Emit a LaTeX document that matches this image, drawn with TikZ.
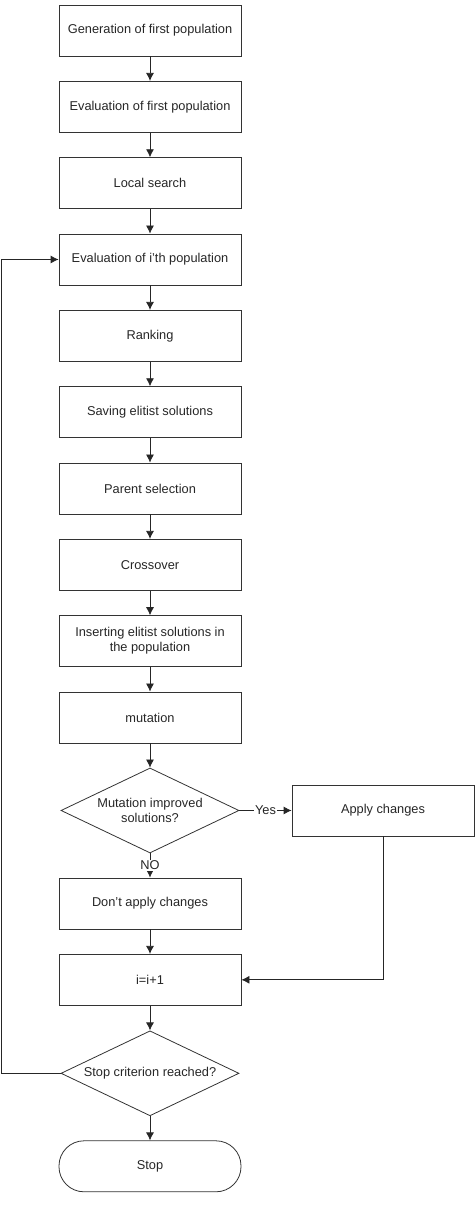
\documentclass[tikz,border=0pt]{standalone}
\usepackage{fontspec}
\setmainfont{Liberation Sans}
\usetikzlibrary{shapes.geometric, arrows.meta}
\tikzstyle{startstop} = [
    rectangle,
    rounded corners=25pt,
    minimum width=182pt,
    minimum height=51pt,
    draw=black!80,
    line width=0.8pt
]
\tikzstyle{process} = [
    rectangle,
    minimum width=182pt,
    minimum height=51pt,
    align=center,
    draw=black!80,
    line width=0.8pt
]
\tikzstyle{decision} = [
    diamond,
    aspect=2.1,
    minimum width=178pt,
    minimum height=85pt,
    inner sep=0pt,
    align=center,
    draw=black!80,
    line width=0.8pt
]
\tikzstyle{arrow} = [line width=0.8pt,draw=black!85,->,>={Latex[length=8pt,width=8pt]}]
\tikzstyle{answer} = [fill=white,inner sep=1pt]

\begin{document}
\begin{tikzpicture}[node distance=76.33pt,
    every node/.style={font=\fontsize{12.8}{15}\selectfont, text=black!85}]

\useasboundingbox (0,0) rectangle (474pt,-1221pt);

\node (gen) [process] at (150pt,-30.5pt) {Generation of first population};

\node (evalfirst) [process, below of=gen]
{Evaluation of first population};

\node (local) [process, below of=evalfirst]
{Local search};

\node (evali) [process, below of=local]
{Evaluation of i'th population};

\node (rank) [process, below of=evali]
{Ranking};

\node (saving) [process, below of=rank]
{Saving elitist solutions};

\node (parent) [process, below of=saving]
{Parent selection};

\node (cross) [process, below of=parent]
{Crossover};

\node (insert) [process, below of=cross]
{Inserting elitist solutions in\\the population};

\node (mutation) [process, below of=insert]
{mutation};

\node (improved) [decision, below of=mutation, node distance=93pt]
{Mutation improved\\solutions?};

\node (apply) [process, right of=improved, node distance=233pt]
{Apply changes};

\node (dontapply) [process, below of=improved, node distance=93pt]
{Don't apply changes};

\node (inc) [process, below of=dontapply]
{i=i+1};

\node (stopcrit) [decision, below of=inc, node distance=93.5pt]
{Stop criterion reached?};

\node (stop) [startstop, below of=stopcrit, node distance=93pt]
{Stop};

\draw [arrow] (gen) -- (evalfirst);
\draw [arrow] (evalfirst) -- (local);
\draw [arrow] (local) -- (evali);
\draw [arrow] (evali) -- (rank);
\draw [arrow] (rank) -- (saving);
\draw [arrow] (saving) -- (parent);
\draw [arrow] (parent) -- (cross);
\draw [arrow] (cross) -- (insert);
\draw [arrow] (insert) -- (mutation);
\draw [arrow] (mutation) -- (improved);
\draw [arrow] (improved) -- node [answer] {Yes} (apply);
\draw [arrow] (improved) -- node [answer] {NO} (dontapply);
\draw [arrow] (dontapply) -- (inc);
\draw [arrow] (apply) |- (inc);
\draw [arrow] (inc) -- (stopcrit);
\draw [arrow] (stopcrit) -- (stop);
\draw [arrow] (stopcrit.west) -- ++(-59pt,0) |- (evali.west);

\end{tikzpicture}
\end{document}
